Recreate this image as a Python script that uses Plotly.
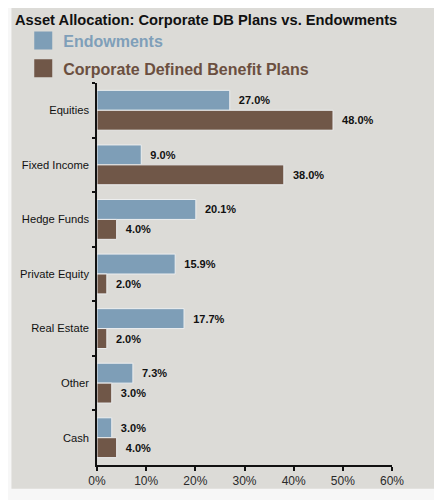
import plotly.graph_objects as go

categories = ["Equities", "Fixed Income", "Hedge Funds", "Private Equity", "Real Estate", "Other", "Cash"]
endowments = [27.0, 9.0, 20.1, 15.9, 17.7, 7.3, 3.0]
corporate_db = [48.0, 38.0, 4.0, 2.0, 2.0, 3.0, 4.0]
series_names = ["Endowments", "Corporate Defined Benefit Plans"]
x_ticks = [0, 10, 20, 30, 40, 50, 60]
x_tick_labels = ["0%", "10%", "20%", "30%", "40%", "50%", "60%"]

BLUE = "#7e9eb7"
BROWN = "#705748"
LEG_TEXT = ["#7f9fb9", "#6b4f40"]
FONT = "Liberation Sans, Arial, sans-serif"
PAD = "\u00a0\u00a0"

fig = go.Figure()
for vals, color, name, grp in [(endowments, BLUE, series_names[0], "a"),
                               (corporate_db, BROWN, series_names[1], "b")]:
    fig.add_trace(go.Bar(
        y=categories, x=vals, orientation="h",
        name=name, legendgroup=grp, showlegend=False,
        marker=dict(color=color, line=dict(color="#eceeef", width=1)),
        text=[PAD + f"{v:.1f}%" for v in vals],
        textposition="outside", cliponaxis=False,
        textfont=dict(family=FONT, size=11, color="#111111", weight="bold"),
    ))

# legend entries (larger square swatches like the original)
for color, name, tcol, grp in [(BLUE, series_names[0], LEG_TEXT[0], "a"),
                               (BROWN, series_names[1], LEG_TEXT[1], "b")]:
    fig.add_trace(go.Scatter(
        x=[None], y=[None], mode="markers",
        name=f"<span style='color:{tcol}'>{name}</span>",
        legendgroup=grp, showlegend=True,
        marker=dict(symbol="square", size=16, color=color, line=dict(color=color, width=2)),
    ))

# the page body adds an 8px offset; figure coords = page coords - 8
OFF = 8
W, H = 442 - OFF, 500 - OFF
L, R, T, B = 92 - OFF, 50, 83 - OFF, 31
pw, ph = W - L - R, H - T - B

def px_x(p):
    return (p - OFF - L) / pw

def px_y(p):
    return (H - B - (p - OFF)) / ph

fig.update_layout(
    width=W, height=H,
    margin=dict(l=L, r=R, t=T, b=B, pad=0),
    paper_bgcolor="#f7f7f7",
    plot_bgcolor="rgba(0,0,0,0)",
    barmode="group", bargap=0.27, bargroupgap=0,
    font=dict(family=FONT, size=11, color="#222222"),
    title=dict(
        text="<b>Asset Allocation: Corporate DB Plans vs. Endowments</b>",
        x=(15 - OFF) / W, xanchor="left", xref="container",
        y=1 - (20 - OFF) / H, yanchor="middle", yref="container",
        font=dict(family=FONT, size=14.7, color="#111111"),
    ),
    legend=dict(
        x=px_x(17), xanchor="left", y=px_y(23), yanchor="top",
        bgcolor="rgba(0,0,0,0)", borderwidth=0,
        font=dict(family=FONT, size=16, weight="bold"),
        traceorder="grouped", tracegroupgap=4,
    ),
    showlegend=True,
    xaxis=dict(
        range=[0, 60], tickvals=x_ticks, ticktext=x_tick_labels,
        showgrid=False, zeroline=False,
        showline=True, linecolor="#111111", linewidth=1.5,
        ticks="outside", ticklen=4, tickcolor="#111111", tickwidth=1.5,
        tickfont=dict(family=FONT, size=12, color="#2a2a2a"),
    ),
    yaxis=dict(
        autorange="reversed", showgrid=False, zeroline=False,
        showline=True, linecolor="#111111", linewidth=1.5,
        ticks="outside", ticklen=3, tickcolor="#111111", tickwidth=1.5,
        tickson="boundaries",
        tickfont=dict(family=FONT, size=11.2, color="#111111"),
        ticklabelstandoff=4,
    ),
    shapes=[dict(
        type="rect", xref="paper", yref="paper", layer="below",
        x0=px_x(5), x1=px_x(437), y0=px_y(493), y1=px_y(5),
        fillcolor="#dcdbd7", line=dict(width=0),
    )],
)

fig.write_html("out.html")
